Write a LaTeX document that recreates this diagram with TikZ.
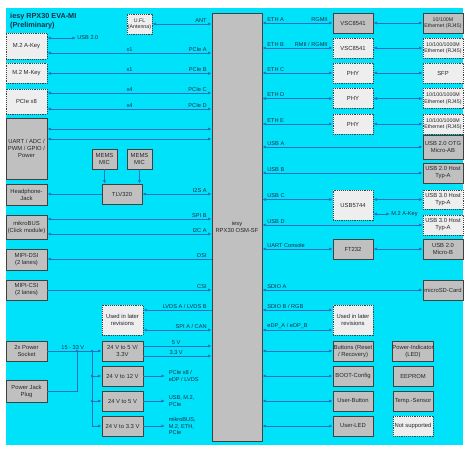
\documentclass[tikz,border=0pt]{standalone}
\usepackage{fontspec}
\setmainfont{Liberation Sans}
\usetikzlibrary{arrows.meta,positioning}
\definecolor{bgcyan}{RGB}{0,226,250}
\definecolor{linkblue}{RGB}{38,110,190}
\definecolor{boxgray}{RGB}{192,192,192}
\definecolor{lightbox}{RGB}{238,238,238}
\definecolor{labeltext}{RGB}{25,45,70}

\begin{document}
\begin{tikzpicture}[x=0.03cm,y=-0.03cm,
    >={Latex[length=3pt,width=2.6pt]},
    box/.style={draw=black!75,line width=0.6pt,fill=boxgray,minimum width=1.23cm,minimum height=0.6cm,inner sep=0pt,align=center,font=\fontsize{5}{6}\selectfont,text=black!85},
    later/.style={box,fill=lightbox,densely dotted},
    link/.style={draw=linkblue,line width=0.6pt},
    lbl/.style={font=\fontsize{4.8}{5.8}\selectfont,text=labeltext,inner sep=1pt,align=left},
    tagend/.style={lbl,pos=1,anchor=south east,xshift=-3pt},
    tagstart/.style={lbl,pos=0,anchor=south west,xshift=3pt},
    jdot/.style={circle,fill=linkblue,inner sep=0pt,minimum size=2.4pt}]
  \useasboundingbox (0,0) rectangle (474,452);
  \fill[white] (0,0) rectangle (474,452);
  \fill[bgcyan] (6,8) rectangle (463,445);

  \node[anchor=north west,font=\bfseries\fontsize{6.2}{7.4}\selectfont,text=labeltext,align=left,inner sep=0pt] (title) at (10,13) {iesy RPX30 EVA-MI\\(Preliminary)};

  \node[box,minimum width=1.5cm,minimum height=12.84cm] (soc) at (237,227) {iesy\\RPX30 OSM-SF};

  \node[later,minimum width=0.75cm,font=\fontsize{4.5}{5.5}\selectfont] (ufl) at (139.5,24) {U.FL\\(Antenna)};
  \node[later,minimum height=0.78cm] (m2a) at (26.5,46) {M.2 A-Key};
  \node[later] (m2m) at (26.5,73.5) {M.2 M-Key};
  \node[later,minimum height=0.75cm] (pcie) at (26.5,101.5) {PCIe x8};
  \node[box,minimum height=1.83cm] (uart) at (26.5,148.5) {UART / ADC /\\PWM / GPIO /\\Power};
  \node[box,minimum width=0.75cm] (mic1) at (104.5,159) {MEMS\\MIC};
  \node[box,minimum width=0.75cm] (mic2) at (139.5,159) {MEMS\\MIC};
  \node[box,minimum width=1.2cm] (tlv) at (122,194) {TLV320};
  \node[box,minimum height=0.63cm] (phone) at (26.5,194.5) {Headphone-\\Jack};
  \node[box,minimum height=0.72cm] (mikro) at (26.5,227) {mikroBUS\\(Click module)};
  \node[box,minimum height=0.63cm] (dsi) at (26.5,259.5) {MIPI-DSI\\(2 lanes)};
  \node[box] (csi) at (26.5,290) {MIPI-CSI\\(2 lanes)};
  \node[later,minimum height=0.9cm] (later1) at (122.5,320) {Used in later\\revisions};
  \node[box] (conv1) at (122.5,351) {24 V to 5 V/\\3.3V};
  \node[box] (conv2) at (122.5,376) {24 V to 12 V};
  \node[box] (conv3) at (122.5,401) {24 V to 5 V};
  \node[box] (conv4) at (122.5,426) {24 V to 3.3 V};
  \node[box] (power) at (26.5,351) {2x Power\\Socket};
  \node[box,minimum height=0.66cm] (jack) at (26.5,391) {Power Jack\\Plug};

  \node[box,minimum width=1.2cm] (vsc1) at (353,23) {VSC8541};
  \node[box,minimum width=1.2cm,font=\fontsize{4.5}{5.5}\selectfont] (rj1) at (443,23) {10/100M\\Ethernet (RJ45)};
  \node[later,minimum width=1.2cm] (vsc2) at (353,48) {VSC8541};
  \node[later,minimum width=1.2cm,font=\fontsize{4.5}{5.5}\selectfont] (rj2) at (443,48) {10/100/1000M\\Ethernet (RJ45)};
  \node[later,minimum width=1.2cm] (phy1) at (353,73) {PHY};
  \node[later,minimum width=1.2cm] (sfp) at (443,73) {SFP};
  \node[later,minimum width=1.2cm] (phy2) at (353,98.5) {PHY};
  \node[later,minimum width=1.2cm,font=\fontsize{4.5}{5.5}\selectfont] (rj3) at (443,98.5) {10/100/1000M\\Ethernet (RJ45)};
  \node[later,minimum width=1.2cm] (phy3) at (353,124) {PHY};
  \node[later,minimum width=1.2cm,font=\fontsize{4.5}{5.5}\selectfont] (rj4) at (443,124) {10/100/1000M\\Ethernet (RJ45)};
  \node[box,minimum width=1.2cm,minimum height=0.72cm] (otg) at (443,147) {USB 2.0 OTG\\Micro-AB};
  \node[box,minimum width=1.2cm] (host2) at (443,173) {USB 2.0 Host\\Typ-A};
  \node[later,minimum width=1.2cm,minimum height=0.9cm] (usbhub) at (353,205) {USB5744};
  \node[later,minimum width=1.2cm,minimum height=0.57cm] (host3a) at (443,199.5) {USB 3.0 Host\\Typ-A};
  \node[later,minimum width=1.2cm] (host3b) at (443,225) {USB 3.0 Host\\Typ-A};
  \node[box,minimum width=1.2cm] (ft) at (353,249) {FT232};
  \node[box,minimum width=1.2cm] (microb) at (443,249) {USB 2.0\\Micro-B};
  \node[box,minimum width=1.2cm] (sd) at (443,290) {microSD-Card};
  \node[later,minimum width=1.2cm,minimum height=0.9cm] (later2) at (353,320) {Used in later\\revisions};
  \node[box,minimum width=1.2cm] (btn) at (353,351) {Buttons (Reset\\/ Recovery)};
  \node[box,minimum width=1.2cm] (boot) at (353,376) {BOOT-Config};
  \node[box,minimum width=1.2cm] (ubtn) at (353,401) {User-Button};
  \node[box,minimum width=1.2cm] (uled) at (353,426) {User-LED};
  \node[box,minimum width=1.2cm] (pled) at (413,351) {Power-Indicator\\(LED)};
  \node[box,minimum width=1.2cm] (eeprom) at (413,376) {EEPROM};
  \node[box,minimum width=1.2cm] (temp) at (413,401) {Temp.-Sensor};
  \node[later,minimum width=1.2cm] (nosup) at (413,426) {Not supported};

  \node[lbl,anchor=west] (usb2) at (76,38) {USB 2.0};
  \node[lbl,anchor=west,inner sep=3pt] (out2) at (165,376) {PCIe x8 /\\eDP / LVDS};
  \node[lbl,anchor=west,inner sep=3pt] (out3) at (165,401) {USB, M.2,\\PCIe};
  \node[lbl,anchor=west,inner sep=3pt] (out4) at (165,426) {mikroBUS,\\M.2, ETH,\\PCIe};
  \node[lbl,anchor=west] (m2akey) at (390,214) {M.2 A-Key};
  \coordinate (split) at (77,351);
  \coordinate (b1) at (92,351);
  \coordinate (b2) at (92,376);
  \coordinate (b3) at (92,401);
  \coordinate (b4) at (92,426);

  \draw[link,<->] (ufl.east) -- (soc.west |- ufl.east) node[tagend]{ANT};
  \draw[link,<->] (m2a.east |- usb2) -- (usb2.west);
  \draw[link,<->] (m2a.east |- 0,53) -- (soc.west |- 0,53) node[tagend]{PCIe A} node[lbl,midway,above]{x1};
  \draw[link,<->] (m2m.east) -- (soc.west |- m2m.east) node[tagend]{PCIe B} node[lbl,midway,above]{x1};
  \draw[link,<->] (pcie.east |- 0,93) -- (soc.west |- 0,93) node[tagend]{PCIe C} node[lbl,midway,above]{x4};
  \draw[link,<->] (pcie.east |- 0,109) -- (soc.west |- 0,109) node[tagend]{PCIe D} node[lbl,midway,above]{x4};
  \draw[link,<->] (uart.east |- 0,129) -- (soc.west |- 0,129);
  \draw[link,<->] (uart.east |- 0,139) -- (soc.west |- 0,139);
  \draw[link,->] (mic1) -- (mic1 |- tlv.north);
  \draw[link,->] (mic2) -- (mic2 |- tlv.north);
  \draw[link,->] (tlv.west) -- (phone.east |- tlv.west);
  \draw[link,<->] (tlv.east) -- (soc.west |- tlv.east) node[tagend]{I2S A};
  \draw[link,<->] (mikro.east |- 0,219) -- (soc.west |- 0,219) node[tagend]{SPI B};
  \draw[link,<->] (mikro.east |- 0,234) -- (soc.west |- 0,234) node[tagend]{I2C A};
  \draw[link,<-] (dsi.east |- 0,259) -- (soc.west |- 0,259) node[tagend]{DSI};
  \draw[link,->] (csi.east) -- (soc.west |- csi.east) node[tagend]{CSI};
  \draw[link,<-] (later1.east |- 0,310) -- (soc.west |- 0,310) node[tagend]{LVDS A / LVDS B};
  \draw[link,<->] (later1.east |- 0,330) -- (soc.west |- 0,330) node[tagend]{SPI A / CAN};
  \draw[link,->] (conv1.east |- 0,346) -- (soc.west |- 0,346) node[lbl,pos=0.48,above]{5 V};
  \draw[link,->] (conv1.east |- 0,356) -- (soc.west |- 0,356) node[lbl,pos=0.48,above]{3.3 V};
  \draw[link] (power.east) -- (b1) node[lbl,pos=0.57,above]{15 - 33 V};
  \draw[link] (jack.east) -- (split |- jack.east) -- (split);
  \draw[link] (b1) -- (b4);
  \draw[link,->] (b1) -- (conv1.west);
  \draw[link,->] (b2) -- (conv2.west);
  \draw[link,->] (b3) -- (conv3.west);
  \draw[link,->] (b4) -- (conv4.west);
  \node[jdot] at (split) {};
  \node[jdot] at (b1) {};
  \node[jdot] at (b2) {};
  \node[jdot] at (b3) {};
  \draw[link,->] (conv2.east) -- (out2.west);
  \draw[link,->] (conv3.east) -- (out3.west);
  \draw[link,->] (conv4.east) -- (out4.west);

  \draw[link,<->] (soc.east |- vsc1.west) -- (vsc1.west) node[tagstart]{ETH A} node[tagend]{RGMII};
  \draw[link,<->] (soc.east |- vsc2.west) -- (vsc2.west) node[tagstart]{ETH B} node[tagend]{RMII / RGMII};
  \draw[link,<->] (soc.east |- phy1.west) -- (phy1.west) node[tagstart]{ETH C};
  \draw[link,<->] (soc.east |- phy2.west) -- (phy2.west) node[tagstart]{ETH D};
  \draw[link,<->] (soc.east |- phy3.west) -- (phy3.west) node[tagstart]{ETH E};
  \draw[link,<->] (vsc1) -- (rj1);
  \draw[link,<->] (vsc2) -- (rj2);
  \draw[link,<->] (phy1) -- (sfp);
  \draw[link,<->] (phy2) -- (rj3);
  \draw[link,<->] (phy3) -- (rj4);
  \draw[link,<->] (soc.east |- otg.west) -- (otg.west) node[tagstart]{USB A};
  \draw[link,<->] (soc.east |- host2.west) -- (host2.west) node[tagstart]{USB B};
  \draw[link,<->] (soc.east |- host3a.west) -- (usbhub.west |- host3a.west) node[tagstart]{USB C};
  \draw[link,<->] (usbhub.east |- host3a.west) -- (host3a.west);
  \draw[link,<->] (usbhub.east |- m2akey) -- (m2akey.west);
  \draw[link,<->] (soc.east |- host3b.west) -- (host3b.west) node[tagstart]{USB D};
  \draw[link,<->] (soc.east |- ft.west) -- (ft.west) node[tagstart]{UART Console};
  \draw[link,<->] (ft) -- (microb);
  \draw[link,<->] (soc.east |- sd.west) -- (sd.west) node[tagstart]{SDIO A};
  \draw[link,<->] (soc.east |- 0,310) -- (later2.west |- 0,310) node[tagstart]{SDIO B / RGB};
  \draw[link,<->] (soc.east |- 0,330) -- (later2.west |- 0,330) node[tagstart]{eDP\_A / eDP\_B};
  \draw[link,<->] (soc.east |- btn.west) -- (btn.west);
  \draw[link,<->] (soc.east |- boot.west) -- (boot.west);
  \draw[link,<->] (soc.east |- ubtn.west) -- (ubtn.west);
  \draw[link,<->] (soc.east |- uled.west) -- (uled.west);
\end{tikzpicture}
\end{document}
